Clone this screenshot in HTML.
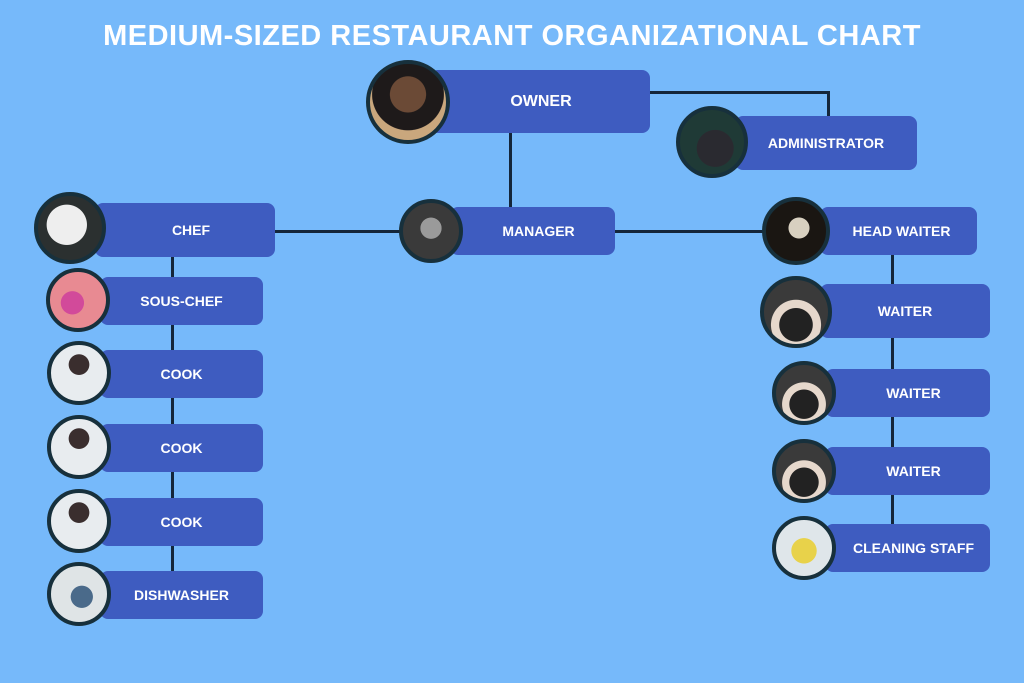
<!DOCTYPE html>
<html><head><style>
body{margin:0;width:1024px;height:683px;background:#76b9fa;position:relative;overflow:hidden;font-family:"Liberation Sans",sans-serif}
.t{position:absolute;top:20px;left:0;width:1024px;text-align:center;color:#fff;font-weight:bold;font-size:29px;letter-spacing:0.5px}
.b{position:absolute;background:#3e5cc0;border-radius:8px;color:#fff;font-weight:bold;font-size:14px;display:flex;align-items:center;justify-content:center}
.c{position:absolute;border-radius:50%;border:4px solid #17303c;box-sizing:border-box}
.l{position:absolute;background:#14263a}
</style></head><body>
<div class="t">MEDIUM-SIZED RESTAURANT ORGANIZATIONAL CHART</div>
<div class="l" style="left:648px;top:91px;width:182px;height:3px"></div>
<div class="l" style="left:827px;top:91px;width:3px;height:26px"></div>
<div class="l" style="left:509px;top:133px;width:3px;height:75px"></div>
<div class="l" style="left:275px;top:230px;width:130px;height:3px"></div>
<div class="l" style="left:615px;top:230px;width:150px;height:3px"></div>
<div class="l" style="left:171px;top:257px;width:3px;height:315px"></div>
<div class="l" style="left:891px;top:255px;width:3px;height:270px"></div>
<div class="b" style="left:430px;top:70px;width:218px;height:63px;font-size:16px;padding-left:2px">OWNER</div>
<div class="b" style="left:735px;top:116px;width:182px;height:54px">ADMINISTRATOR</div>
<div class="b" style="left:450px;top:207px;width:165px;height:48px;padding-left:12px;box-sizing:border-box">MANAGER</div>
<div class="b" style="left:95px;top:203px;width:180px;height:54px;padding-left:12px;box-sizing:border-box">CHEF</div>
<div class="b" style="left:100px;top:277px;width:163px;height:48px">SOUS-CHEF</div>
<div class="b" style="left:100px;top:350px;width:163px;height:48px">COOK</div>
<div class="b" style="left:100px;top:424px;width:163px;height:48px">COOK</div>
<div class="b" style="left:100px;top:498px;width:163px;height:48px">COOK</div>
<div class="b" style="left:100px;top:571px;width:163px;height:48px">DISHWASHER</div>
<div class="b" style="left:820px;top:207px;width:157px;height:48px;padding-left:6px;box-sizing:border-box">HEAD WAITER</div>
<div class="b" style="left:820px;top:284px;width:170px;height:54px">WAITER</div>
<div class="b" style="left:825px;top:369px;width:165px;height:48px;padding-left:12px;box-sizing:border-box">WAITER</div>
<div class="b" style="left:825px;top:447px;width:165px;height:48px;padding-left:12px;box-sizing:border-box">WAITER</div>
<div class="b" style="left:825px;top:524px;width:165px;height:48px;padding-left:12px;box-sizing:border-box">CLEANING STAFF</div>
<div class="c" style="left:366px;top:60px;width:84px;height:84px;background:radial-gradient(circle at 50% 40%,#6b4a36 0 30%,#1e1a1a 31% 60%,#c9a77d 61%)"></div>
<div class="c" style="left:676px;top:106px;width:72px;height:72px;background:radial-gradient(circle at 55% 60%,#2a2a30 0 35%,#1f3a36 36%)"></div>
<div class="c" style="left:399px;top:199px;width:64px;height:64px;background:radial-gradient(circle at 50% 45%,#9a9a9a 0 25%,#3a3a3a 26%)"></div>
<div class="c" style="left:34px;top:192px;width:72px;height:72px;background:radial-gradient(circle at 45% 45%,#eee 0 40%,#2b3030 41%)"></div>
<div class="c" style="left:46px;top:268px;width:64px;height:64px;background:radial-gradient(circle at 40% 55%,#d24a9a 0 25%,#e88a92 26%)"></div>
<div class="c" style="left:47px;top:341px;width:64px;height:64px;background:radial-gradient(circle at 50% 35%,#3a2e2e 0 22%,#e8ecef 23%)"></div>
<div class="c" style="left:47px;top:415px;width:64px;height:64px;background:radial-gradient(circle at 50% 35%,#3a2e2e 0 22%,#e8ecef 23%)"></div>
<div class="c" style="left:47px;top:489px;width:64px;height:64px;background:radial-gradient(circle at 50% 35%,#3a2e2e 0 22%,#e8ecef 23%)"></div>
<div class="c" style="left:47px;top:562px;width:64px;height:64px;background:radial-gradient(circle at 55% 55%,#4a6a8a 0 25%,#dfe4e6 26%)"></div>
<div class="c" style="left:762px;top:197px;width:68px;height:68px;background:radial-gradient(circle at 55% 45%,#d8d0c0 0 22%,#1a1612 23%)"></div>
<div class="c" style="left:760px;top:276px;width:72px;height:72px;background:radial-gradient(circle at 50% 70%,#222 0 30%,#e6d8cc 31% 45%,#3a3a3a 46%)"></div>
<div class="c" style="left:772px;top:361px;width:64px;height:64px;background:radial-gradient(circle at 50% 70%,#222 0 30%,#e6d8cc 31% 45%,#3a3a3a 46%)"></div>
<div class="c" style="left:772px;top:439px;width:64px;height:64px;background:radial-gradient(circle at 50% 70%,#222 0 30%,#e6d8cc 31% 45%,#3a3a3a 46%)"></div>
<div class="c" style="left:772px;top:516px;width:64px;height:64px;background:radial-gradient(circle at 50% 55%,#e8d24a 0 30%,#dfe6ea 31%)"></div>
</body></html>
